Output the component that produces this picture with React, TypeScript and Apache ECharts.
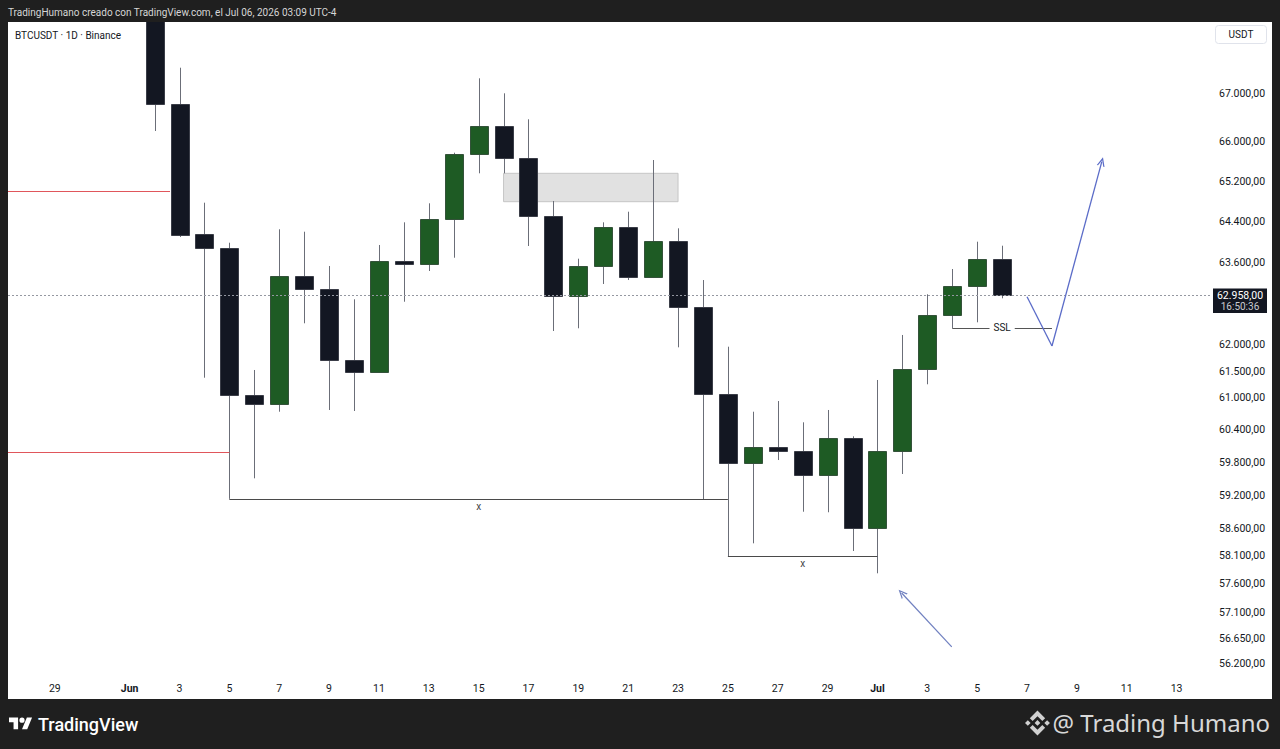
import React, { useEffect, useRef } from "react";
import * as echarts from "echarts";

// ---- DATA (day index = days since Jun 1, 2026; Jun 1 = 0) ----
const candleDays = [
  1, 2, 3, 4, 5, 6, 7, 8, 9, 10, 11, 12, 13, 14, 15, 16, 17, 18,
  19, 20, 21, 22, 23, 24, 25, 26, 27, 28, 29, 30, 31, 32, 33, 34, 35,
];
const opens = [
  68900, 66773, 64148, 63884, 61051, 60876, 63330, 63082, 61713, 61491, 63628, 63570,
  64451, 65747, 66329, 65673, 64510, 62941, 63531, 64298, 63304, 64010, 62728, 61070,
  59780, 60086, 60007, 59560, 60242, 58607, 60007, 61547, 62580, 63135, 63656,
];
const closes = [
  66773, 64134, 63872, 61051, 60876, 63330, 63082, 61713, 61491, 63628, 63570, 64451,
  65747, 66329, 65673, 64510, 62941, 63531, 64298, 63304, 64010, 62728, 61070, 59780,
  60086, 60007, 59560, 60242, 58607, 60007, 61547, 62580, 63135, 63656, 62958,
];
const lows = [
  66221, 64094, 61377, 59130, 59505, 60738, 62414, 60770, 60751, 61470, 62830, 63427,
  63687, 65364, 65364, 63917, 62266, 62318, 63174, 63251, 63290, 61954, 59110, 58099,
  58326, 59841, 58896, 58886, 58188, 57790, 59584, 61253, 62324, 62433, 62896,
];
const highs = [
  69400, 67524, 64775, 63982, 61523, 64247, 64199, 63525, 62877, 63937, 64385, 64763,
  65780, 67304, 66994, 66460, 64809, 63668, 64385, 64596, 65632, 64266, 63251, 61966,
  60738, 60938, 60540, 60770, 60280, 61334, 62190, 62974, 63466, 64002, 63923,
];

const xTickDays = [-3, 0, 2, 4, 6, 8, 10, 12, 14, 16, 18, 20, 22, 24, 26, 28, 30, 32, 34, 36, 38, 40, 42];
const xTickLabels = ["29", "Jun", "3", "5", "7", "9", "11", "13", "15", "17", "19", "21", "23", "25", "27", "29", "Jul", "3", "5", "7", "9", "11", "13"];
const yTicks = [67000, 66000, 65200, 64400, 63600, 62000, 61500, 61000, 60400, 59800, 59200, 58600, 58100, 57600, 57100, 56650, 56200];

const xMin = -4.88;
const xMax = 43.38;
const priceTop = 68481;
const priceBottom = 55974;

const lastPrice = 62958;
const lastTime = "16:50:36";

const redLevels = [65010, 59985];
const redEndDays = [1.62, 4];

const zoneDays = [15, 22];
const zonePrices = [64795, 65364];

const liquidityStartDays = [4, 24];
const liquidityEndDays = [24, 30];
const liquidityPrices = [59130, 58099];

const sslDays = [33, 37];
const sslPrice = 62324;

const projectionDays = [36, 37, 39];
const projectionPrices = [62927, 61979, 65598];

const arrowDays = [32.98, 30.97];
const arrowPrices = [56494, 57441];

// ---- helpers ----
const L = (p: number) => Math.log(p);

function fmtPrice(p: number): string {
  const s = Math.round(p).toString();
  let out = "";
  for (let i = 0; i < s.length; i++) {
    if (i > 0 && (s.length - i) % 3 === 0) out += ".";
    out += s[i];
  }
  return out + ",00";
}

const TV_PATH =
  "M14 22H7V11H0V4h14v18zM28 22h-8l7.5-18h8L28 22zM24 8a4 4 0 1 1-8 0 4 4 0 0 1 8 0z";
const BNB_PATH =
  "M38.73 53.2l24.59-24.58 24.6 24.6 14.3-14.31L63.32 0 24.43 38.9l14.3 14.3zM0 63.31l14.3-14.31 14.31 14.31-14.31 14.3zM38.73 73.41l24.59 24.59 24.6-24.6 14.31 14.29-38.9 38.91-38.91-38.88-.02-.02zM98 63.31l14.3-14.31 14.31 14.3-14.31 14.32zM77.83 63.3L63.32 48.78 52.59 59.51l-1.24 1.23-2.54 2.54 14.51 14.5 14.51-14.47z";

echarts.graphic.registerShape("tvLogo", echarts.graphic.extendPath(TV_PATH, {}) as any);
echarts.graphic.registerShape("bnbLogo", echarts.graphic.extendPath(BNB_PATH, {}) as any);

const CHEVRON = "path://M0,10 L5,0 L10,10 L8.4,10 L5,3.2 L1.6,10 Z";
const FONT = "Roboto, 'Noto Sans', sans-serif";
const BLUE = "#5b6cc8";

function txt(id: string, text: string, x: number, y: number, font: string, fill: string, align = "left") {
  return {
    id,
    type: "text",
    x,
    y,
    z: 100,
    silent: true,
    style: {
      text,
      font,
      fill,
      align,
      textAlign: align,
      verticalAlign: "middle",
      textVerticalAlign: "middle",
    },
  };
}

export default function App() {
  const ref = useRef<HTMLDivElement>(null);

  useEffect(() => {
    const chart = echarts.init(ref.current!, null, { renderer: "svg" });

    const data = candleDays.map((d, i) => [d, L(opens[i]), L(closes[i]), L(lows[i]), L(highs[i])]);

    const markLineData: any[] = [];
    // last price dotted line
    markLineData.push([
      { coord: [xMin, L(lastPrice)], lineStyle: { color: "#9598a1", type: [2, 2], width: 1 } },
      { coord: [xMax, L(lastPrice)] },
    ]);
    // red levels
    redLevels.forEach((p, i) => {
      markLineData.push([
        { coord: [xMin, L(p)], lineStyle: { color: "#e0565b", width: 1, type: "solid" } },
        { coord: [redEndDays[i], L(p)] },
      ]);
    });
    // liquidity lines with "x"
    liquidityPrices.forEach((p, i) => {
      markLineData.push([
        {
          coord: [liquidityStartDays[i], L(p)],
          lineStyle: { color: "#4a4a4a", width: 1, type: "solid" },
          label: {
            show: true,
            formatter: "x",
            position: "insideMiddleBottom",
            distance: 3,
            color: "#444",
            fontSize: 10,
            fontFamily: FONT,
          },
        },
        { coord: [liquidityEndDays[i], L(p)] },
      ]);
    });
    // SSL
    markLineData.push([
      {
        coord: [sslDays[0], L(sslPrice)],
        lineStyle: { color: "#555", width: 1, type: "solid" },
        label: {
          show: true,
          formatter: "SSL",
          position: "middle",
          distance: 0,
          verticalAlign: "middle",
          backgroundColor: "#ffffff",
          padding: [1, 4],
          color: "#131722",
          fontSize: 10,
          fontFamily: FONT,
        },
      },
      { coord: [sslDays[1], L(sslPrice)] },
    ]);
    // projection path
    for (let i = 0; i < projectionDays.length - 1; i++) {
      const last = i === projectionDays.length - 2;
      markLineData.push([
        { coord: [projectionDays[i], L(projectionPrices[i])], lineStyle: { color: BLUE, width: 1.3, type: "solid" } },
        last
          ? { coord: [projectionDays[i + 1], L(projectionPrices[i + 1])], symbol: CHEVRON, symbolSize: [8, 9] }
          : { coord: [projectionDays[i + 1], L(projectionPrices[i + 1])] },
      ]);
    }
    // bottom arrow
    markLineData.push([
      { coord: [arrowDays[0], L(arrowPrices[0])], lineStyle: { color: "#7080c0", width: 1.2, type: "solid" } },
      { coord: [arrowDays[1], L(arrowPrices[1])], symbol: CHEVRON, symbolSize: [8, 9] },
    ]);

    const baseGraphic: any[] = [
      { id: "paper", type: "rect", z: -10, silent: true, shape: { x: 8, y: 22, width: 1264, height: 677 }, style: { fill: "#ffffff" } },
      txt("hdr", "TradingHumano creado con TradingView.com, el Jul 06, 2026 03:09 UTC-4", 8, 12.5, `10px ${FONT}`, "#d6d6d6"),
      txt("ttl", "BTCUSDT · 1D · Binance", 15, 35.5, `10px ${FONT}`, "#131722"),
      {
        id: "usdtBox",
        type: "rect",
        z: 100,
        silent: true,
        shape: { x: 1215.5, y: 25.5, width: 51, height: 18, r: 3 },
        style: { fill: "#ffffff", stroke: "#e0e3eb", lineWidth: 1 },
      },
      txt("usdt", "USDT", 1241, 34.5, `10px ${FONT}`, "#131722", "center"),
      {
        id: "tvIcon",
        type: "tvLogo",
        x: 9,
        y: 715,
        scaleX: 0.65,
        scaleY: 0.65,
        z: 100,
        silent: true,
        style: { fill: "#ffffff" },
      },
      txt("tvText", "TradingView", 38, 724, `500 18px ${FONT}`, "#ffffff"),
      {
        id: "bnbIcon",
        type: "bnbLogo",
        x: 1025,
        y: 710.5,
        scaleX: 0.197,
        scaleY: 0.197,
        z: 100,
        silent: true,
        style: { fill: "#d0d0d0" },
      },
      txt("wm", "@ Trading Humano", 1270, 722, `24px 'Noto Sans', sans-serif`, "#d8d8d8", "right"),
    ];

    const option: any = {
      animation: false,
      backgroundColor: "#1f1f1f",
      grid: { left: 8, top: 22, width: 1203, height: 655, containLabel: false },
      xAxis: {
        type: "value",
        min: xMin,
        max: xMax,
        axisLine: { show: false },
        axisTick: { show: false },
        splitLine: { show: false },
        axisLabel: {
          customValues: xTickDays,
          margin: 6,
          color: "#131722",
          fontSize: 10.5,
          fontFamily: FONT,
          formatter: (v: number) => {
            const idx = xTickDays.findIndex((t) => Math.abs(t - v) < 1e-6);
            const lab = idx >= 0 ? xTickLabels[idx] : "";
            return lab === "Jun" || lab === "Jul" ? `{b|${lab}}` : lab;
          },
          rich: { b: { fontWeight: "bold", color: "#131722", fontSize: 10.5, fontFamily: FONT } },
        },
      },
      yAxis: {
        type: "value",
        position: "right",
        min: L(priceBottom),
        max: L(priceTop),
        scale: true,
        axisLine: { show: false },
        axisTick: { show: false },
        splitLine: { show: false },
        axisLabel: {
          customValues: yTicks.map(L),
          margin: 8,
          color: "#131722",
          fontSize: 10.5,
          fontFamily: FONT,
          formatter: (v: number) => {
            let best = yTicks[0];
            let bd = Infinity;
            yTicks.forEach((t) => {
              const dd = Math.abs(L(t) - v);
              if (dd < bd) {
                bd = dd;
                best = t;
              }
            });
            return fmtPrice(best);
          },
        },
      },
      series: [
        {
          type: "custom",
          clip: true,
          encode: { x: 0, y: [1, 2, 3, 4] },
          data,
          renderItem: (params: any, api: any) => {
            const d = api.value(0);
            const o = api.value(1);
            const c = api.value(2);
            const lo = api.value(3);
            const hi = api.value(4);
            const pO = api.coord([d, o]);
            const pC = api.coord([d, c]);
            const pL = api.coord([d, lo]);
            const pH = api.coord([d, hi]);
            const w = api.size([1, 0])[0] * 0.75;
            const cx = Math.round(pO[0]);
            const half = Math.round(w / 2 - 0.5);
            const top = Math.round(Math.min(pO[1], pC[1]));
            const bot = Math.round(Math.max(pO[1], pC[1]));
            const up = c >= o;
            return {
              type: "group",
              children: [
                {
                  type: "line",
                  shape: { x1: cx + 0.5, y1: pH[1], x2: cx + 0.5, y2: pL[1] },
                  style: { stroke: "#6b6e78", lineWidth: 1 },
                },
                {
                  type: "rect",
                  shape: { x: cx - half + 0.5, y: top + 0.5, width: half * 2, height: Math.max(bot - top, 2) },
                  style: {
                    fill: up ? "#1e5b24" : "#131722",
                    stroke: up ? "#34523a" : "#3a3d47",
                    lineWidth: 1,
                  },
                },
              ],
            };
          },
          markArea: {
            silent: true,
            itemStyle: { color: "rgba(205,205,205,0.6)", borderColor: "#c6c6c6", borderWidth: 1 },
            data: [[{ coord: [zoneDays[0], L(zonePrices[1])] }, { coord: [zoneDays[1], L(zonePrices[0])] }]],
          },
          markLine: {
            silent: true,
            symbol: ["none", "none"],
            label: { show: false },
            emphasis: { disabled: true },
            data: markLineData,
          },
        },
      ],
      graphic: { elements: baseGraphic },
    };

    chart.setOption(option);

    const py = chart.convertToPixel({ yAxisIndex: 0 }, L(lastPrice)) as number;
    const tag: any[] = [
      {
        id: "tagBox",
        type: "rect",
        z: 100,
        silent: true,
        shape: { x: 1213, y: py - 6.5, width: 54, height: 24.5 },
        style: { fill: "#131722" },
      },
      txt("tagPrice", fmtPrice(lastPrice), 1240, py, `10.5px ${FONT}`, "#ffffff", "center"),
      txt("tagTime", lastTime, 1240, py + 11, `10px ${FONT}`, "#c9cbd1", "center"),
    ];
    chart.setOption({ graphic: { elements: baseGraphic.concat(tag) } });

    return () => chart.dispose();
  }, []);

  return (
    <div style={{ position: "fixed", left: 0, top: 0, width: 1280, height: 749, background: "#1f1f1f" }}>
      <div ref={ref} style={{ width: 1280, height: 749 }} />
    </div>
  );
}
